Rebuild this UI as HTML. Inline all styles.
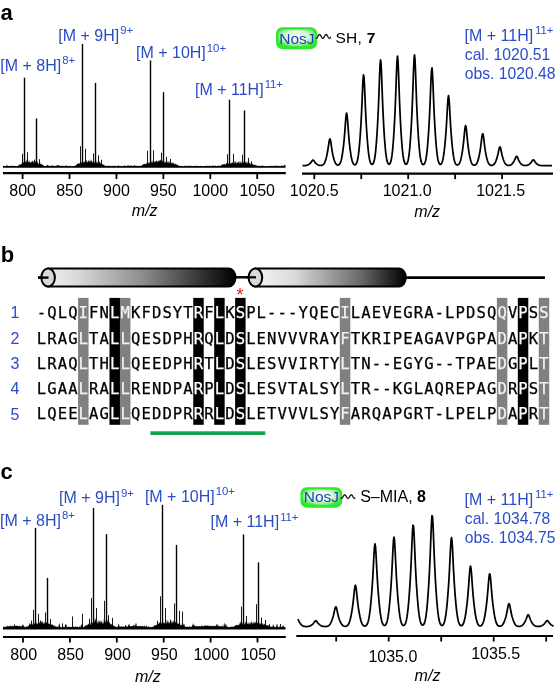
<!DOCTYPE html>
<html><head><meta charset="utf-8"><title>Figure</title>
<style>
html,body{margin:0;padding:0;background:#fff;}
body{width:556px;height:685px;overflow:hidden;}
svg{display:block;}
</style></head><body>
<svg width="556" height="685" viewBox="0 0 556 685">
<rect width="556" height="685" fill="#fff"/>
<text x="0.6" y="19.8" font-size="22" text-anchor="start" fill="#000" font-weight="bold" font-style="normal" font-family="'Liberation Sans', Arial, Helvetica, sans-serif">a</text>
<path d="M3 167.8L3 165.61L3.25 166.05L3.5 165.9L3.75 165.99L4 165.87L4.25 166.05L4.5 166.11L4.75 166.13L5 166.1L5.25 166.18L5.5 166.2L5.75 166.19L6 166.04L6.25 165.58L6.5 165.23L6.75 165.2L7 165.23L7.25 165.58L7.5 165.44L7.75 166.12L8 165.85L8.25 165.68L8.5 166.09L8.75 165.96L9 166.11L9.25 165.96L9.5 165.9L9.75 166.07L10 165.87L10.25 165.69L10.5 165.94L10.75 166.05L11 165.97L11.25 165.98L11.5 165.56L11.75 165.23L12 166.18L12.25 166.08L12.5 165.89L12.75 166.06L13 166.02L13.25 165.58L13.5 165.69L13.75 166L14 165.92L14.25 165.88L14.5 165.71L14.75 166.02L15 166.03L15.25 166.06L15.5 165.95L15.75 165.88L16 165.9L16.25 165.74L16.5 166.13L16.75 166.19L17 165.93L17.25 165.99L17.5 166.09L17.75 166.01L18 166.17L18.25 165.65L18.5 165.39L18.75 165.04L19 164.6L19.25 165.43L19.5 164.57L19.75 164.26L20 164.8L20.25 164.97L20.5 164.81L20.75 163.9L21 164.26L21.25 164.17L21.5 162.47L21.75 164.71L22 162.84L22.25 162.41L22.5 164.31L22.75 162.6L23 162.14L23.25 163.52L23.5 161.91L23.75 161.16L24 162.68L24.25 162.63L24.5 161.86L24.75 161.28L25 162.29L25.25 162.84L25.5 161.17L25.75 161.48L26 161.07L26.25 159.36L26.5 159.81L26.75 162.67L27 161.67L27.25 159.92L27.5 161.77L27.75 161.82L28 162.75L28.25 162.24L28.5 160.44L28.75 162.16L29 160.18L29.25 160.29L29.5 161.93L29.75 162.68L30 162.52L30.25 161.47L30.5 162.51L30.75 162.69L31 162.69L31.25 161.52L31.5 161.13L31.75 161.76L32 163.15L32.25 160.12L32.5 161.62L32.75 160.83L33 161.45L33.25 163.3L33.5 162.6L33.75 160.9L34 160.31L34.25 162.91L34.5 161.76L34.75 163.18L35 162.09L35.25 162.65L35.5 161.61L35.75 160.94L36 161.21L36.25 162.86L36.5 161.69L36.75 162.96L37 163.08L37.25 163.16L37.5 161.37L37.75 162.23L38 161.59L38.25 163.7L38.5 164.37L38.75 163.92L39 163.43L39.25 162.88L39.5 162.99L39.75 163.06L40 162.62L40.25 162.71L40.5 164.36L40.75 164.45L41 164.02L41.25 164.26L41.5 163.76L41.75 164.49L42 164.58L42.25 164.35L42.5 164.75L42.75 164.71L43 165.17L43.25 165.39L43.5 165.45L43.75 165.5L44 166.18L44.25 166.07L44.5 165.56L44.75 166.03L45 166.11L45.25 166.02L45.5 165.96L45.75 166.04L46 165.8L46.25 166.09L46.5 165.54L46.75 166.16L47 165.32L47.25 165.34L47.5 164.85L47.75 164.81L48 164.85L48.25 165.34L48.5 165.87L48.75 165.98L49 165.79L49.25 166.02L49.5 165.86L49.75 165.99L50 165.78L50.25 165.99L50.5 166.12L50.75 166.02L51 165.62L51.25 165.84L51.5 166.08L51.75 165.51L52 166.06L52.25 165.61L52.5 165.1L52.75 165.55L53 166.08L53.25 165.76L53.5 165.85L53.75 165.9L54 165.45L54.25 166.13L54.5 166.03L54.75 165.91L55 165.73L55.25 166.04L55.5 165.85L55.75 166L56 165.75L56.25 165.5L56.5 165.96L56.75 165.8L57 165.66L57.25 165.07L57.5 165.19L57.75 164.84L58 165.49L58.25 165.38L58.5 165.23L58.75 164.88L59 165.18L59.25 165.78L59.5 165.55L59.75 165.36L60 166.09L60.25 165.65L60.5 166.13L60.75 165.93L61 165.63L61.25 166.13L61.5 165.97L61.75 165.52L62 165.56L62.25 166.1L62.5 165.93L62.75 166.06L63 165.58L63.25 165.89L63.5 165.95L63.75 165.92L64 165.82L64.25 165.76L64.5 165.9L64.75 166.15L65 166.2L65.25 165.47L65.5 165.75L65.75 166.08L66 165.83L66.25 165.59L66.5 165.36L66.75 165.77L67 166.14L67.25 166.04L67.5 165.88L67.75 165.86L68 166L68.25 166.01L68.5 166.16L68.75 166.09L69 165.89L69.25 166.13L69.5 165.65L69.75 166.07L70 166.05L70.25 165.4L70.5 165.21L70.75 166.14L71 165.94L71.25 166.15L71.5 166.15L71.75 166.18L72 166.19L72.25 166.05L72.5 166.16L72.75 166.11L73 165.96L73.25 166.16L73.5 166.1L73.75 165.81L74 165.96L74.25 165.95L74.5 166.07L74.75 166.01L75 165.98L75.25 165.35L75.5 165.57L75.75 165.65L76 164.89L76.25 164.57L76.5 164.74L76.75 165.18L77 163.96L77.25 163.82L77.5 164.24L77.75 164.02L78 163.64L78.25 163.47L78.5 163.05L78.75 163.46L79 162.74L79.25 163.4L79.5 163.34L79.75 164.24L80 163.32L80.25 163.23L80.5 162.43L80.75 162L81 162.33L81.25 163.06L81.5 162.08L81.75 161.97L82 163.12L82.25 162.23L82.5 163.25L82.75 163.08L83 161.09L83.25 162.8L83.5 161.5L83.75 162.24L84 162.66L84.25 160.92L84.5 161.98L84.75 162.64L85 161.6L85.25 160.19L85.5 159.85L85.75 161.16L86 162.28L86.25 161.68L86.5 159.57L86.75 160.35L87 160.65L87.25 162.23L87.5 162.82L87.75 161.93L88 160.66L88.25 161.88L88.5 161.84L88.75 160.85L89 162.1L89.25 162.99L89.5 159.34L89.75 160.24L90 162.28L90.25 160.78L90.5 161.22L90.75 161.1L91 158.78L91.25 162.56L91.5 160.26L91.75 159.9L92 161.19L92.25 162.08L92.5 162.57L92.75 162.67L93 162.37L93.25 162.17L93.5 162.42L93.75 160.67L94 161.71L94.25 163.47L94.5 160.53L94.75 162.39L95 163L95.25 160.12L95.5 160.59L95.75 163.13L96 162.34L96.25 161.74L96.5 161.05L96.75 163.33L97 163.44L97.25 160.39L97.5 163.07L97.75 163.11L98 163.84L98.25 163.35L98.5 162.84L98.75 161.54L99 161.33L99.25 162.35L99.5 161.26L99.75 161.3L100 163.65L100.25 164.23L100.5 163.31L100.75 162.11L101 163.55L101.25 163.77L101.5 163.89L101.75 164.72L102 164.03L102.25 163.69L102.5 164.55L102.75 164.31L103 164.58L103.25 165.12L103.5 164.62L103.75 165.23L104 164.73L104.25 165.14L104.5 165.61L104.75 165.57L105 165.21L105.25 165.98L105.5 166.08L105.75 165.89L106 165.79L106.25 166.1L106.5 165.73L106.75 165.7L107 166.1L107.25 165.72L107.5 166.04L107.75 165.92L108 165.58L108.25 165.61L108.5 165.93L108.75 166.14L109 165.52L109.25 165.61L109.5 166.13L109.75 165.94L110 166.02L110.25 165.95L110.5 165.93L110.75 166.01L111 165.41L111.25 165.94L111.5 166.19L111.75 166.16L112 166.05L112.25 166.09L112.5 165.7L112.75 165.66L113 166.04L113.25 166.01L113.5 166.04L113.75 165.81L114 165.85L114.25 165.95L114.5 165.84L114.75 165.95L115 165.55L115.25 165.91L115.5 165.85L115.75 166.01L116 165.87L116.25 166.17L116.5 166.07L116.75 166.14L117 166.04L117.25 165.63L117.5 166.04L117.75 166.02L118 165.72L118.25 165.45L118.5 165.43L118.75 165.45L119 165.72L119.25 165.86L119.5 166.1L119.75 166.09L120 166.06L120.25 166.02L120.5 165.95L120.75 165.82L121 165.93L121.25 165.76L121.5 166.13L121.75 166.19L122 166.04L122.25 165.83L122.5 166.09L122.75 166.17L123 165.9L123.25 165.87L123.5 166.11L123.75 166.1L124 165.96L124.25 165.68L124.5 165.12L124.75 165.71L125 165.62L125.25 165.75L125.5 165.84L125.75 166.02L126 166.08L126.25 166.13L126.5 165.73L126.75 166L127 166.16L127.25 166.11L127.5 165.58L127.75 165.23L128 165.2L128.25 165.23L128.5 165.58L128.75 165.9L129 165.34L129.25 166.13L129.5 166.06L129.75 165.72L130 165.68L130.25 165.38L130.5 165.35L130.75 165.38L131 165.68L131.25 165.8L131.5 165.78L131.75 166.02L132 165.79L132.25 165.87L132.5 166.06L132.75 165.91L133 165.86L133.25 165.94L133.5 165.55L133.75 165.91L134 165.61L134.25 165.28L134.5 165.25L134.75 165.28L135 165.61L135.25 165.63L135.5 166.19L135.75 165.62L136 165.8L136.25 166.1L136.5 165.71L136.75 165.97L137 165.66L137.25 165.89L137.5 165.82L137.75 166.04L138 165.76L138.25 166.16L138.5 165.67L138.75 165.98L139 165.96L139.25 165.8L139.5 165.67L139.75 166.02L140 166.04L140.25 165.86L140.5 166L140.75 165.72L141 166.15L141.25 165.86L141.5 165.51L141.75 165.14L142 164.88L142.25 165.03L142.5 164.73L142.75 165.54L143 164.32L143.25 164.05L143.5 164.04L143.75 164.74L144 164.12L144.25 164.08L144.5 164.12L144.75 164.1L145 163.2L145.25 163.52L145.5 164.6L145.75 164.61L146 163.91L146.25 163.4L146.5 163.75L146.75 162.39L147 163.91L147.25 162.65L147.5 163.19L147.75 163.86L148 163.73L148.25 163.7L148.5 162.95L148.75 161.75L149 162.57L149.25 163.53L149.5 161.79L149.75 163.55L150 161.31L150.25 162.62L150.5 163.78L150.75 162.42L151 161.99L151.25 163.26L151.5 160.58L151.75 161.28L152 163.18L152.25 160.41L152.5 160.75L152.75 162.86L153 162.71L153.25 163.16L153.5 162.14L153.75 162.42L154 161.82L154.25 161.89L154.5 161.37L154.75 162.1L155 161.67L155.25 161.6L155.5 161.01L155.75 162.16L156 160.89L156.25 160.17L156.5 161.04L156.75 161.29L157 160.92L157.25 162.53L157.5 160.98L157.75 162.19L158 160.13L158.25 161.31L158.5 161.61L158.75 160.81L159 159.92L159.25 159.52L159.5 161.67L159.75 160.22L160 161.66L160.25 159.42L160.5 159.67L160.75 159.76L161 160.82L161.25 161.68L161.5 161.53L161.75 159.77L162 162.5L162.25 161.03L162.5 160.23L162.75 161.84L163 160.45L163.25 160.45L163.5 161.82L163.75 162.73L164 159.43L164.25 163.02L164.5 162.86L164.75 162.16L165 162.2L165.25 162.55L165.5 162.59L165.75 161.58L166 162.54L166.25 161.64L166.5 162.2L166.75 163.16L167 163.28L167.25 161.88L167.5 160.54L167.75 163L168 161.43L168.25 163.75L168.5 161.15L168.75 161.06L169 162.67L169.25 163.54L169.5 162.19L169.75 160.97L170 162.91L170.25 162.97L170.5 163.13L170.75 162.31L171 163.59L171.25 164.16L171.5 162.52L171.75 162.58L172 161.74L172.25 164.28L172.5 162.98L172.75 162.29L173 162.38L173.25 162.47L173.5 163.67L173.75 163.3L174 163.68L174.25 163.2L174.5 164.12L174.75 164.24L175 164.39L175.25 164.33L175.5 163.82L175.75 163.78L176 164.11L176.25 165.06L176.5 163.79L176.75 164.65L177 164.29L177.25 165.04L177.5 164.76L177.75 165.62L178 165.02L178.25 165.47L178.5 165.34L178.75 165.48L179 165.84L179.25 165.98L179.5 166.17L179.75 165.9L180 165.85L180.25 165.91L180.5 165.88L180.75 166.07L181 165.74L181.25 166.08L181.5 166.12L181.75 165.72L182 165.94L182.25 166.09L182.5 165.89L182.75 166.19L183 165.81L183.25 166.13L183.5 165.93L183.75 166.14L184 165.95L184.25 165.71L184.5 165.75L184.75 166.07L185 166.03L185.25 165.82L185.5 165.88L185.75 165.7L186 166.02L186.25 165.89L186.5 166.01L186.75 165.77L187 165.71L187.25 166.13L187.5 166.16L187.75 166.08L188 165.64L188.25 165.45L188.5 165.69L188.75 165.79L189 166.16L189.25 165.53L189.5 166.09L189.75 165.78L190 166.15L190.25 166.04L190.5 164.92L190.75 166.18L191 165.97L191.25 165.89L191.5 166.1L191.75 165.44L192 166.03L192.25 166.15L192.5 165.77L192.75 166.14L193 166.14L193.25 165.72L193.5 165.84L193.75 166.05L194 165.93L194.25 166.18L194.5 165.68L194.75 166.07L195 166.04L195.25 166.13L195.5 166.01L195.75 165.76L196 165.85L196.25 165.79L196.5 165.86L196.75 166.03L197 165.87L197.25 165.92L197.5 165.75L197.75 165.92L198 166.16L198.25 166.09L198.5 166.12L198.75 166.13L199 165.92L199.25 166.1L199.5 166.16L199.75 166L200 165.79L200.25 165.63L200.5 165.92L200.75 166.03L201 166.03L201.25 165.78L201.5 166.18L201.75 166.01L202 165.97L202.25 166.08L202.5 166.03L202.75 165.98L203 166.13L203.25 166.17L203.5 165.98L203.75 166.02L204 165.83L204.25 166.14L204.5 166.12L204.75 165.99L205 166.19L205.25 166.11L205.5 165.77L205.75 165.71L206 165.59L206.25 165.91L206.5 166L206.75 165.94L207 165.3L207.25 165.63L207.5 166.14L207.75 165.95L208 165.89L208.25 166.08L208.5 165.99L208.75 165.97L209 166.15L209.25 165.94L209.5 165.85L209.75 165.29L210 166.03L210.25 166.18L210.5 165.9L210.75 165.51L211 166.2L211.25 166.18L211.5 165.97L211.75 165.64L212 165.85L212.25 165.09L212.5 165.7L212.75 165.83L213 166.07L213.25 165.88L213.5 165.62L213.75 166.07L214 165.52L214.25 166.01L214.5 165.73L214.75 165.69L215 165.75L215.25 165.62L215.5 166.09L215.75 165.84L216 166.04L216.25 166.18L216.5 166.18L216.75 165.74L217 166.06L217.25 165.9L217.5 165.91L217.75 165.83L218 165.91L218.25 165.76L218.5 165.51L218.75 165.49L219 165.51L219.25 165.71L219.5 166.02L219.75 166.13L220 166L220.25 165.79L220.5 165.78L220.75 165.6L221 165.46L221.25 165.61L221.5 165.04L221.75 164.48L222 164.44L222.25 164.87L222.5 164.74L222.75 164.53L223 164.66L223.25 164.23L223.5 163.77L223.75 164.26L224 165.11L224.25 163.88L224.5 164.07L224.75 163.67L225 164.14L225.25 164.76L225.5 164.41L225.75 164.4L226 162.91L226.25 163.17L226.5 162.93L226.75 163.91L227 162.67L227.25 162.66L227.5 162.53L227.75 162.98L228 163.58L228.25 162.59L228.5 164.01L228.75 164.01L229 164.14L229.25 162.91L229.5 162.33L229.75 163.31L230 164.15L230.25 163.72L230.5 163.43L230.75 163.25L231 161.88L231.25 162.76L231.5 163.54L231.75 162.72L232 164.14L232.25 161.02L232.5 163.24L232.75 163.37L233 161.34L233.25 162.91L233.5 163.9L233.75 163.88L234 163.81L234.25 162.93L234.5 163.04L234.75 161.25L235 161.11L235.25 161.86L235.5 163.77L235.75 160.41L236 162.25L236.25 161.26L236.5 163.53L236.75 163.95L237 163.23L237.25 161.65L237.5 163.07L237.75 163.11L238 161.57L238.25 162.05L238.5 162.38L238.75 162.48L239 163.72L239.25 163.69L239.5 162.6L239.75 160.89L240 161.22L240.25 160.68L240.5 163.11L240.75 162.48L241 163.68L241.25 163.24L241.5 160.9L241.75 163.15L242 162.21L242.25 162.3L242.5 162.51L242.75 163.82L243 163.68L243.25 161.05L243.5 162.31L243.75 162.65L244 162.19L244.25 161.2L244.5 161.41L244.75 161.32L245 162.59L245.25 162.69L245.5 162.22L245.75 161.48L246 162.58L246.25 161.37L246.5 162.41L246.75 164L247 162.16L247.25 163.85L247.5 163.43L247.75 161.18L248 161.19L248.25 160.87L248.5 161.6L248.75 162.95L249 162.86L249.25 162.38L249.5 163.11L249.75 163.11L250 163.97L250.25 162.51L250.5 164.83L250.75 164.47L251 164.19L251.25 163.3L251.5 163.77L251.75 163.47L252 163.74L252.25 163.94L252.5 164.13L252.75 163.52L253 165.17L253.25 164.91L253.5 164.06L253.75 165.29L254 164.23L254.25 164.98L254.5 165.24L254.75 164.71L255 164.61L255.25 164.75L255.5 165.42L255.75 165.47L256 165.44L256.25 165.05L256.5 165.48L256.75 165.15L257 165.76L257.25 165.86L257.5 165.92L257.75 166.18L258 165.79L258.25 165.52L258.5 165.62L258.75 165.89L259 166.2L259.25 165.99L259.5 165.6L259.75 165.92L260 165.78L260.25 166.18L260.5 165.99L260.75 166.19L261 165.62L261.25 166.15L261.5 165.82L261.75 165.6L262 165.58L262.25 165.52L262.5 165.82L262.75 166.11L263 165.92L263.25 165.86L263.5 165.79L263.75 165.84L264 166.19L264.25 166.13L264.5 166.05L264.75 165.97L265 166.05L265.25 166.06L265.5 165.57L265.75 166.19L266 166.2L266.25 166.14L266.5 166.13L266.75 166.05L267 166L267.25 165.92L267.5 166.13L267.75 166.06L268 165.71L268.25 166.04L268.5 166.17L268.75 166.08L269 165.82L269.25 166.07L269.5 166.19L269.75 165.96L270 166.06L270.25 166.1L270.5 165.63L270.75 165.78L271 165.88L271.25 166.06L271.5 165.64L271.75 165.88L272 165.9L272.25 166.08L272.5 165.71L272.75 165.96L273 166.15L273.25 165.83L273.5 166.18L273.75 166L274 165.35L274.25 165.91L274.5 166.07L274.75 166.17L275 165.41L275.25 165.68L275.5 165.37L275.75 165.77L276 165.86L276.25 165.76L276.5 166.11L276.75 166.05L277 165.96L277.25 165.39L277.5 166.15L277.75 165.72L278 165.73L278.25 165.91L278.5 166.16L278.75 165.91L279 166.09L279.25 166.05L279.5 165.87L279.75 165.96L280 166.17L280.25 166.11L280.5 165.9L280.75 166.05L281 165.77L281.25 165.56L281.5 165.76L281.75 166.04L282 165.58L282.25 165.89L282.5 165.53L282.75 165.86L283 165.78L283.25 165.97L283.5 166.07L283.75 165.43L284 165.83L284.25 165.3L284.5 164.79L284.75 164.74L285 164.79L285.25 165.3L285.5 166.07L285.5 167.8Z" fill="#000" stroke="none"/>
<line x1="24.5" y1="167" x2="24.5" y2="77.7" stroke="#000" stroke-width="1.4"/>
<line x1="22.5" y1="167" x2="22.5" y2="153.9" stroke="#000" stroke-width="0.9"/>
<line x1="27.5" y1="167" x2="27.5" y2="152.2" stroke="#000" stroke-width="0.9"/>
<line x1="36.5" y1="167" x2="36.5" y2="118.4" stroke="#000" stroke-width="1.4"/>
<line x1="34.5" y1="167" x2="34.5" y2="159.7" stroke="#000" stroke-width="0.9"/>
<line x1="39.5" y1="167" x2="39.5" y2="159.2" stroke="#000" stroke-width="0.9"/>
<line x1="82.5" y1="167" x2="82.5" y2="43.9" stroke="#000" stroke-width="1.4"/>
<line x1="80.5" y1="167" x2="80.5" y2="146.2" stroke="#000" stroke-width="0.9"/>
<line x1="85.5" y1="167" x2="85.5" y2="148.7" stroke="#000" stroke-width="0.9"/>
<line x1="88.5" y1="167" x2="88.5" y2="160.7" stroke="#000" stroke-width="0.9"/>
<line x1="95.5" y1="167" x2="95.5" y2="82.9" stroke="#000" stroke-width="1.4"/>
<line x1="93.5" y1="167" x2="93.5" y2="153.4" stroke="#000" stroke-width="0.9"/>
<line x1="98.5" y1="167" x2="98.5" y2="155.2" stroke="#000" stroke-width="0.9"/>
<line x1="101.5" y1="167" x2="101.5" y2="159.7" stroke="#000" stroke-width="0.9"/>
<line x1="150.5" y1="167" x2="150.5" y2="60.4" stroke="#000" stroke-width="1.4"/>
<line x1="147.5" y1="167" x2="147.5" y2="150.7" stroke="#000" stroke-width="0.9"/>
<line x1="153.5" y1="167" x2="153.5" y2="150.2" stroke="#000" stroke-width="0.9"/>
<line x1="156.5" y1="167" x2="156.5" y2="161.2" stroke="#000" stroke-width="0.9"/>
<line x1="163.5" y1="167" x2="163.5" y2="92.2" stroke="#000" stroke-width="1.4"/>
<line x1="161.5" y1="167" x2="161.5" y2="152.7" stroke="#000" stroke-width="0.9"/>
<line x1="166.5" y1="167" x2="166.5" y2="156.7" stroke="#000" stroke-width="0.9"/>
<line x1="170.5" y1="167" x2="170.5" y2="159" stroke="#000" stroke-width="0.9"/>
<line x1="229.5" y1="167" x2="229.5" y2="99.7" stroke="#000" stroke-width="1.4"/>
<line x1="227.5" y1="167" x2="227.5" y2="154.2" stroke="#000" stroke-width="0.9"/>
<line x1="233.5" y1="167" x2="233.5" y2="153.9" stroke="#000" stroke-width="0.9"/>
<line x1="238.5" y1="167" x2="238.5" y2="162" stroke="#000" stroke-width="0.9"/>
<line x1="244.5" y1="167" x2="244.5" y2="110.4" stroke="#000" stroke-width="1.4"/>
<line x1="242.5" y1="167" x2="242.5" y2="154.6" stroke="#000" stroke-width="0.9"/>
<line x1="248.5" y1="167" x2="248.5" y2="157.9" stroke="#000" stroke-width="0.9"/>
<line x1="251.5" y1="167" x2="251.5" y2="161.2" stroke="#000" stroke-width="0.9"/>
<line x1="3" y1="173.2" x2="285.8" y2="173.2" stroke="#000" stroke-width="2.2"/>
<line x1="22.6" y1="173.2" x2="22.6" y2="179" stroke="#000" stroke-width="1.8"/>
<line x1="69.52" y1="173.2" x2="69.52" y2="179" stroke="#000" stroke-width="1.8"/>
<line x1="116.44" y1="173.2" x2="116.44" y2="179" stroke="#000" stroke-width="1.8"/>
<line x1="163.36" y1="173.2" x2="163.36" y2="179" stroke="#000" stroke-width="1.8"/>
<line x1="210.28" y1="173.2" x2="210.28" y2="179" stroke="#000" stroke-width="1.8"/>
<line x1="257.2" y1="173.2" x2="257.2" y2="179" stroke="#000" stroke-width="1.8"/>
<text x="22.6" y="195.8" font-size="16" text-anchor="middle" fill="#000" font-weight="normal" font-style="normal" font-family="'Liberation Sans', Arial, Helvetica, sans-serif">800</text>
<text x="69.52" y="195.8" font-size="16" text-anchor="middle" fill="#000" font-weight="normal" font-style="normal" font-family="'Liberation Sans', Arial, Helvetica, sans-serif">850</text>
<text x="116.44" y="195.8" font-size="16" text-anchor="middle" fill="#000" font-weight="normal" font-style="normal" font-family="'Liberation Sans', Arial, Helvetica, sans-serif">900</text>
<text x="163.36" y="195.8" font-size="16" text-anchor="middle" fill="#000" font-weight="normal" font-style="normal" font-family="'Liberation Sans', Arial, Helvetica, sans-serif">950</text>
<text x="210.28" y="195.8" font-size="16" text-anchor="middle" fill="#000" font-weight="normal" font-style="normal" font-family="'Liberation Sans', Arial, Helvetica, sans-serif">1000</text>
<text x="257.2" y="195.8" font-size="16" text-anchor="middle" fill="#000" font-weight="normal" font-style="normal" font-family="'Liberation Sans', Arial, Helvetica, sans-serif">1050</text>
<text x="144.7" y="215.6" font-size="16" text-anchor="middle" fill="#000" font-weight="normal" font-style="italic" font-family="'Liberation Sans', Arial, Helvetica, sans-serif">m/z</text>
<text x="0.3" y="70.5" font-size="16" fill="#2b4cc8" font-family="'Liberation Sans', Arial, Helvetica, sans-serif">[M + 8H]<tspan font-size="11.3" dx="1" dy="-6.2">8+</tspan></text>
<text x="58.3" y="40.5" font-size="16" fill="#2b4cc8" font-family="'Liberation Sans', Arial, Helvetica, sans-serif">[M + 9H]<tspan font-size="11.3" dx="1" dy="-6.2">9+</tspan></text>
<text x="136" y="58" font-size="16" fill="#2b4cc8" font-family="'Liberation Sans', Arial, Helvetica, sans-serif">[M + 10H]<tspan font-size="11.3" dx="1" dy="-6.2">10+</tspan></text>
<text x="195" y="94.5" font-size="16" fill="#2b4cc8" font-family="'Liberation Sans', Arial, Helvetica, sans-serif">[M + 11H]<tspan font-size="11.3" dx="1" dy="-6.2">11+</tspan></text>
<path d="M302.5 165.6L303 165.59L303.5 165.59L304 165.58L304.5 165.57L305 165.54L305.5 165.51L306 165.45L306.5 165.36L307 165.24L307.5 165.08L308 164.86L308.5 164.59L309 164.26L309.5 163.88L310 163.44L310.5 162.93L311 162.33L311.5 161.63L312 160.9L312.5 160.33L313 160.1L313.5 160.33L314 160.9L314.5 161.63L315 162.33L315.5 162.93L316 163.44L316.5 163.88L317 164.26L317.5 164.59L318 164.86L318.5 165.08L319 165.24L319.5 165.35L320 165.42L320.5 165.45L321 165.44L321.5 165.39L322 165.28L322.5 165.09L323 164.79L323.5 164.35L324 163.72L324.5 162.87L325 161.76L325.5 160.38L326 158.72L326.5 156.8L327 154.59L327.5 152.04L328 149.01L328.5 145.54L329 142.07L329.5 139.51L330 138.85L330.5 140.35L331 143.41L331.5 146.97L332 150.28L332.5 153.11L333 155.51L333.5 157.6L334 159.42L334.5 160.97L335 162.23L335.5 163.23L336 163.98L336.5 164.5L337 164.85L337.5 165.03L338 165.08L338.5 164.98L339 164.71L339.5 164.25L340 163.51L340.5 162.45L341 160.97L341.5 159.01L342 156.52L342.5 153.49L343 149.93L343.5 145.84L344 141.13L344.5 135.6L345 129.1L345.5 122.12L346 116.14L346.5 113.19L347 114.49L347.5 119.5L348 126.31L348.5 133.11L349 139.03L349.5 144.04L350 148.35L350.5 152.13L351 155.38L351.5 158.08L352 160.25L352.5 161.9L353 163.11L353.5 163.95L354 164.47L354.5 164.74L355 164.78L355.5 164.57L356 164.1L356.5 163.28L357 162L357.5 160.16L358 157.6L358.5 154.21L359 149.9L359.5 144.66L360 138.49L360.5 131.42L361 123.28L361.5 113.71L362 102.48L362.5 90.4L363 80.06L363.5 74.95L364 77.21L364.5 85.86L365 97.65L365.5 109.41L366 119.65L366.5 128.31L367 135.77L367.5 142.3L368 147.92L368.5 152.6L369 156.35L369.5 159.22L370 161.32L370.5 162.78L371 163.73L371.5 164.26L372 164.44L372.5 164.29L373 163.79L373.5 162.86L374 161.39L374.5 159.25L375 156.27L375.5 152.33L376 147.31L376.5 141.2L377 134.01L377.5 125.77L378 116.29L378.5 105.14L379 92.05L379.5 77.98L380 65.93L380.5 59.98L381 62.61L381.5 72.69L382 86.42L382.5 100.12L383 112.06L383.5 122.15L384 130.85L384.5 138.45L385 145L385.5 150.45L386 154.82L386.5 158.16L387 160.61L387.5 162.32L388 163.42L388.5 164.04L389 164.26L389.5 164.09L390 163.53L390.5 162.48L391 160.85L391.5 158.48L392 155.21L392.5 150.91L393 145.5L393.5 138.94L394 131.29L394.5 122.53L395 112.41L395.5 100.47L396 86.58L396.5 72.12L397 60.58L397.5 56.1L398 60.58L398.5 72.12L399 86.58L399.5 100.47L400 112.41L400.5 122.53L401 131.29L401.5 138.94L402 145.5L402.5 150.92L403 155.21L403.5 158.48L404 160.86L404.5 162.49L405 163.54L405.5 164.12L406 164.3L406.5 164.11L407 163.52L407.5 162.46L408 160.8L408.5 158.4L409 155.09L409.5 150.74L410 145.26L410.5 138.63L411 130.88L411.5 122.02L412 111.78L412.5 99.7L413 85.64L413.5 71.01L414 59.33L414.5 54.8L415 59.33L415.5 71.01L416 85.64L416.5 99.7L417 111.78L417.5 122.02L418 130.88L418.5 138.63L419 145.26L419.5 150.74L420 155.1L420.5 158.41L421 160.83L421.5 162.51L422 163.61L422.5 164.27L423 164.58L423.5 164.59L424 164.3L424.5 163.66L425 162.61L425.5 161.01L426 158.73L426.5 155.64L427 151.6L427.5 146.55L428 140.5L428.5 133.47L429 125.43L429.5 116.11L430 105.08L430.5 92.41L431 79.72L431.5 70.4L432 67.97L432.5 73.47L433 84.61L433.5 97.61L434 109.71L434.5 120.02L435 128.78L435.5 136.4L436 143.04L436.5 148.69L437 153.33L437.5 156.97L438 159.72L438.5 161.69L439 163.03L439.5 163.87L440 164.29L440.5 164.37L441 164.12L441.5 163.53L442 162.52L442.5 161.03L443 158.95L443.5 156.21L444 152.75L444.5 148.56L445 143.67L445.5 138.06L446 131.6L446.5 123.97L447 115.09L447.5 105.84L448 98.46L448.5 95.6L449 98.46L449.5 105.84L450 115.09L450.5 123.97L451 131.6L451.5 138.07L452 143.67L452.5 148.56L453 152.75L453.5 156.21L454 158.96L454.5 161.06L455 162.58L455.5 163.65L456 164.35L456.5 164.77L457 164.98L457.5 165L458 164.86L458.5 164.53L459 163.99L459.5 163.19L460 162.07L460.5 160.58L461 158.68L461.5 156.37L462 153.66L462.5 150.54L463 146.96L463.5 142.74L464 137.79L464.5 132.47L465 127.92L465.5 125.67L466 126.66L466.5 130.47L467 135.66L467.5 140.85L468 145.36L468.5 149.17L469 152.46L469.5 155.33L470 157.81L470.5 159.87L471 161.52L471.5 162.79L472 163.72L472.5 164.37L473 164.81L473.5 165.06L474 165.19L474.5 165.19L475 165.07L475.5 164.83L476 164.43L476.5 163.83L477 162.98L477.5 161.85L478 160.4L478.5 158.61L479 156.51L479.5 154.08L480 151.29L480.5 148.04L481 144.19L481.5 139.94L482 136.07L482.5 133.82L483 134.08L483.5 136.76L484 140.79L484.5 145L485 148.73L485.5 151.88L486 154.59L486.5 156.95L487 159L487.5 160.72L488 162.1L488.5 163.17L489 163.97L489.5 164.54L490 164.92L490.5 165.16L491 165.29L491.5 165.34L492 165.31L492.5 165.21L493 165.01L493.5 164.71L494 164.28L494.5 163.68L495 162.91L495.5 161.94L496 160.78L496.5 159.42L497 157.88L497.5 156.09L498 153.97L498.5 151.53L499 149.09L499.5 147.3L500 146.83L500.5 147.89L501 150.03L501.5 152.53L502 154.86L502.5 156.84L503 158.52L503.5 159.99L504 161.26L504.5 162.35L505 163.24L505.5 163.94L506 164.47L506.5 164.85L507 165.12L507.5 165.28L508 165.38L508.5 165.42L509 165.4L509.5 165.34L510 165.22L510.5 165.04L511 164.78L511.5 164.43L512 163.99L512.5 163.45L513 162.82L513.5 162.1L514 161.27L514.5 160.29L515 159.13L515.5 157.9L516 156.84L516.5 156.32L517 156.55L517.5 157.43L518 158.64L518.5 159.84L519 160.89L519.5 161.78L520 162.55L520.5 163.21L521 163.79L521.5 164.27L522 164.65L522.5 164.95L523 165.16L523.5 165.31L524 165.41L524.5 165.47L525 165.5L525.5 165.49L526 165.46L526.5 165.4L527 165.3L527.5 165.16L528 164.96L528.5 164.71L529 164.4L529.5 164.03L530 163.6L530.5 163.11L531 162.54L531.5 161.87L532 161.1L532.5 160.37L533 159.89L533.5 159.84L534 160.25L534.5 160.95L535 161.72L535.5 162.42L536 163.01L536.5 163.51L537 163.95L537.5 164.33L538 164.66L538.5 164.92L539 165.13L539.5 165.28L540 165.39L540.5 165.47L541 165.52L541.5 165.55L542 165.57L542.5 165.58L543 165.59L543.5 165.6L544 165.6L544.5 165.6L545 165.6L545.5 165.6L546 165.6L546.5 165.6L547 165.6L547.5 165.6L548 165.6L548.5 165.6L549 165.6L549.5 165.6L550 165.6L550.5 165.6L551 165.6L551.5 165.6L552 165.6" fill="none" stroke="#000" stroke-width="1.75" stroke-linejoin="round"/>
<line x1="302" y1="173.6" x2="553" y2="173.6" stroke="#000" stroke-width="2.2"/>
<line x1="314.3" y1="173.6" x2="314.3" y2="179.1" stroke="#000" stroke-width="1.8"/>
<line x1="361.25" y1="173.6" x2="361.25" y2="179.1" stroke="#000" stroke-width="1.8"/>
<line x1="408.2" y1="173.6" x2="408.2" y2="179.1" stroke="#000" stroke-width="1.8"/>
<line x1="455.15" y1="173.6" x2="455.15" y2="179.1" stroke="#000" stroke-width="1.8"/>
<line x1="502.1" y1="173.6" x2="502.1" y2="179.1" stroke="#000" stroke-width="1.8"/>
<text x="314.3" y="195.8" font-size="16" text-anchor="middle" fill="#000" font-weight="normal" font-style="normal" font-family="'Liberation Sans', Arial, Helvetica, sans-serif">1020.5</text>
<text x="407.2" y="195.8" font-size="16" text-anchor="middle" fill="#000" font-weight="normal" font-style="normal" font-family="'Liberation Sans', Arial, Helvetica, sans-serif">1021.0</text>
<text x="500.6" y="195.8" font-size="16" text-anchor="middle" fill="#000" font-weight="normal" font-style="normal" font-family="'Liberation Sans', Arial, Helvetica, sans-serif">1021.5</text>
<text x="427.2" y="217" font-size="16" text-anchor="middle" fill="#000" font-weight="normal" font-style="italic" font-family="'Liberation Sans', Arial, Helvetica, sans-serif">m/z</text>
<defs><radialGradient id="ga" cx="50%" cy="42%" r="62%"><stop offset="0" stop-color="#f6fff6"/><stop offset="0.45" stop-color="#dcfadc"/><stop offset="0.7" stop-color="#96f096"/><stop offset="0.85" stop-color="#45e845"/><stop offset="1" stop-color="#2ee62e"/></radialGradient></defs>
<rect x="277.2" y="28.4" width="38.8" height="19.6" rx="5" ry="5" fill="url(#ga)" stroke="#2ee82e" stroke-width="2.3"/>
<text x="279.2" y="43.5" font-size="15.5" text-anchor="start" fill="#1f3fb8" font-weight="normal" font-style="normal" font-family="'Liberation Sans', Arial, Helvetica, sans-serif">NosJ</text>
<path d="M316.3 38.29L316.48 38.23L316.66 38.12L316.84 37.96L317.01 37.76L317.19 37.51L317.37 37.23L317.55 36.93L317.73 36.62L317.91 36.29L318.09 35.97L318.27 35.67L318.44 35.38L318.62 35.12L318.8 34.9L318.98 34.73L319.16 34.6L319.34 34.52L319.52 34.5L319.7 34.53L319.88 34.62L320.05 34.76L320.23 34.94L320.41 35.17L320.59 35.43L320.77 35.73L320.95 36.04L321.13 36.36L321.31 36.68L321.48 36.99L321.66 37.29L321.84 37.56L322.02 37.8L322.2 38L322.38 38.15L322.56 38.25L322.74 38.3L322.91 38.29L323.09 38.23L323.27 38.11L323.45 37.95L323.63 37.74L323.81 37.49L323.99 37.21L324.17 36.91L324.34 36.59L324.52 36.27L324.7 35.95L324.88 35.64L325.06 35.36L325.24 35.11L325.42 34.89L325.6 34.72L325.77 34.59L325.95 34.52L326.13 34.5L326.31 34.54L326.49 34.63L326.67 34.77L326.85 34.96L327.03 35.19L327.2 35.46L327.38 35.75L327.56 36.06L327.74 36.38L327.92 36.7L328.1 37.02L328.28 37.31L328.46 37.58L328.63 37.82L328.81 38.01L328.99 38.16L329.17 38.25L329.35 38.3L329.53 38.29L329.71 38.22L329.89 38.1L330.06 37.93L330.24 37.72L330.42 37.47L330.6 37.19" fill="none" stroke="#111" stroke-width="1.3" stroke-linecap="round"/>
<text x="335.5" y="43.3" font-size="15.5" letter-spacing="0.25" font-family="'Liberation Sans', Arial, Helvetica, sans-serif" fill="#000">SH, <tspan font-weight="bold">7</tspan></text>
<text x="464.6" y="40.9" font-size="16" fill="#2b4cc8" font-family="'Liberation Sans', Arial, Helvetica, sans-serif">[M + 11H]<tspan font-size="11.3" dx="1.8" dy="-7.2">11+</tspan></text>
<text x="464.8" y="59.7" font-size="15.7" text-anchor="start" fill="#2b4cc8" font-weight="normal" font-style="normal" font-family="'Liberation Sans', Arial, Helvetica, sans-serif">cal. 1020.51</text>
<text x="464.8" y="78.5" font-size="15.7" text-anchor="start" fill="#2b4cc8" font-weight="normal" font-style="normal" font-family="'Liberation Sans', Arial, Helvetica, sans-serif">obs. 1020.48</text>
<text x="0.8" y="262.4" font-size="22" text-anchor="start" fill="#000" font-weight="bold" font-style="normal" font-family="'Liberation Sans', Arial, Helvetica, sans-serif">b</text>
<defs><linearGradient id="hg1" x1="0" x2="1" y1="0" y2="0"><stop offset="0" stop-color="#f0f0f0"/><stop offset="0.15" stop-color="#dadada"/><stop offset="0.5" stop-color="#8e8e8e"/><stop offset="0.85" stop-color="#2a2a2a"/><stop offset="1" stop-color="#000"/></linearGradient><linearGradient id="hg2" x1="0" x2="1" y1="0" y2="0"><stop offset="0" stop-color="#f4f4f4"/><stop offset="0.25" stop-color="#dcdcdc"/><stop offset="0.7" stop-color="#6a6a6a"/><stop offset="1" stop-color="#000"/></linearGradient></defs>
<line x1="38" y1="277.6" x2="48" y2="277.6" stroke="#000" stroke-width="2.4"/>
<path d="M48.1 268.4 L228.7 268.4 A6.8 9.1 0 0 1 228.7 286.6 L48.1 286.6 Z" fill="url(#hg1)" stroke="#000" stroke-width="2"/>
<ellipse cx="48.1" cy="277.5" rx="6.8" ry="9.1" fill="#d9d9d9" stroke="#000" stroke-width="2"/>
<line x1="235" y1="277.3" x2="252" y2="277.3" stroke="#000" stroke-width="2.4"/>
<path d="M255.4 268.4 L399 268.4 A6.8 9.1 0 0 1 399 286.6 L255.4 286.6 Z" fill="url(#hg2)" stroke="#000" stroke-width="2"/>
<ellipse cx="255.4" cy="277.5" rx="6.8" ry="9.1" fill="#d9d9d9" stroke="#000" stroke-width="2"/>
<line x1="405" y1="277.6" x2="545" y2="277.6" stroke="#000" stroke-width="2.6"/>
<line x1="246" y1="277.3" x2="256" y2="277.3" stroke="#000" stroke-width="2.2"/>
<line x1="38" y1="277.6" x2="48.5" y2="277.6" stroke="#000" stroke-width="2.4"/>
<text x="240" y="301" font-size="18" text-anchor="middle" fill="#e02020" font-weight="normal" font-style="normal" font-family="'Liberation Sans', Arial, Helvetica, sans-serif">*</text>
<rect x="78.08" y="297.9" width="10.47" height="126.9" fill="#808080"/>
<rect x="119.96" y="297.9" width="10.47" height="126.9" fill="#808080"/>
<rect x="339.83" y="297.9" width="10.47" height="126.9" fill="#808080"/>
<rect x="496.88" y="297.9" width="10.47" height="126.9" fill="#808080"/>
<rect x="538.76" y="297.9" width="10.47" height="126.9" fill="#808080"/>
<rect x="109.49" y="297.9" width="10.47" height="126.9" fill="#000"/>
<rect x="193.25" y="297.9" width="10.47" height="126.9" fill="#000"/>
<rect x="214.19" y="297.9" width="10.47" height="126.9" fill="#000"/>
<rect x="235.13" y="297.9" width="10.47" height="126.9" fill="#000"/>
<rect x="517.82" y="297.9" width="10.47" height="126.9" fill="#000"/>
<text x="14.9" y="318.3" font-size="16" text-anchor="middle" fill="#2b4cc8" font-weight="normal" font-style="normal" font-family="'Liberation Sans', Arial, Helvetica, sans-serif">1</text>
<text y="318.1" font-size="15.6" font-family="'DejaVu Sans Mono', monospace" text-anchor="middle" fill="#000" stroke="#000" stroke-width="0.25"><tspan x="41.44">-</tspan><tspan x="51.91">Q</tspan><tspan x="62.38">L</tspan><tspan x="72.85">Q</tspan><tspan x="83.32" fill="#f2f2f2" stroke="#f2f2f2">I</tspan><tspan x="93.79">F</tspan><tspan x="104.26">N</tspan><tspan x="114.73" fill="#fff" stroke="#fff">L</tspan><tspan x="125.2" fill="#f2f2f2" stroke="#f2f2f2">M</tspan><tspan x="135.67">K</tspan><tspan x="146.14">F</tspan><tspan x="156.61">D</tspan><tspan x="167.08">S</tspan><tspan x="177.55">Y</tspan><tspan x="188.02">T</tspan><tspan x="198.49" fill="#fff" stroke="#fff">R</tspan><tspan x="208.96">F</tspan><tspan x="219.43" fill="#fff" stroke="#fff">L</tspan><tspan x="229.9">K</tspan><tspan x="240.37" fill="#fff" stroke="#fff">S</tspan><tspan x="250.84">P</tspan><tspan x="261.31">L</tspan><tspan x="271.78">-</tspan><tspan x="282.25">-</tspan><tspan x="292.72">-</tspan><tspan x="303.19">Y</tspan><tspan x="313.66">Q</tspan><tspan x="324.12">E</tspan><tspan x="334.6">C</tspan><tspan x="345.06" fill="#f2f2f2" stroke="#f2f2f2">I</tspan><tspan x="355.54">L</tspan><tspan x="366">A</tspan><tspan x="376.48">E</tspan><tspan x="386.95">V</tspan><tspan x="397.42">E</tspan><tspan x="407.89">G</tspan><tspan x="418.36">R</tspan><tspan x="428.83">A</tspan><tspan x="439.3">-</tspan><tspan x="449.77">L</tspan><tspan x="460.24">P</tspan><tspan x="470.71">D</tspan><tspan x="481.18">S</tspan><tspan x="491.65">Q</tspan><tspan x="502.12" fill="#f2f2f2" stroke="#f2f2f2">Q</tspan><tspan x="512.59">V</tspan><tspan x="523.06" fill="#fff" stroke="#fff">P</tspan><tspan x="533.53">S</tspan><tspan x="544" fill="#f2f2f2" stroke="#f2f2f2">S</tspan></text>
<text x="14.9" y="343.7" font-size="16" text-anchor="middle" fill="#2b4cc8" font-weight="normal" font-style="normal" font-family="'Liberation Sans', Arial, Helvetica, sans-serif">2</text>
<text y="343.5" font-size="15.6" font-family="'DejaVu Sans Mono', monospace" text-anchor="middle" fill="#000" stroke="#000" stroke-width="0.25"><tspan x="41.44">L</tspan><tspan x="51.91">R</tspan><tspan x="62.38">A</tspan><tspan x="72.85">G</tspan><tspan x="83.32" fill="#f2f2f2" stroke="#f2f2f2">L</tspan><tspan x="93.79">T</tspan><tspan x="104.26">A</tspan><tspan x="114.73" fill="#fff" stroke="#fff">L</tspan><tspan x="125.2" fill="#f2f2f2" stroke="#f2f2f2">L</tspan><tspan x="135.67">Q</tspan><tspan x="146.14">E</tspan><tspan x="156.61">S</tspan><tspan x="167.08">D</tspan><tspan x="177.55">P</tspan><tspan x="188.02">H</tspan><tspan x="198.49" fill="#fff" stroke="#fff">R</tspan><tspan x="208.96">Q</tspan><tspan x="219.43" fill="#fff" stroke="#fff">L</tspan><tspan x="229.9">D</tspan><tspan x="240.37" fill="#fff" stroke="#fff">S</tspan><tspan x="250.84">L</tspan><tspan x="261.31">E</tspan><tspan x="271.78">N</tspan><tspan x="282.25">V</tspan><tspan x="292.72">V</tspan><tspan x="303.19">V</tspan><tspan x="313.66">R</tspan><tspan x="324.12">A</tspan><tspan x="334.6">Y</tspan><tspan x="345.06" fill="#f2f2f2" stroke="#f2f2f2">F</tspan><tspan x="355.54">T</tspan><tspan x="366">K</tspan><tspan x="376.48">R</tspan><tspan x="386.95">I</tspan><tspan x="397.42">P</tspan><tspan x="407.89">E</tspan><tspan x="418.36">A</tspan><tspan x="428.83">G</tspan><tspan x="439.3">A</tspan><tspan x="449.77">V</tspan><tspan x="460.24">P</tspan><tspan x="470.71">G</tspan><tspan x="481.18">P</tspan><tspan x="491.65">A</tspan><tspan x="502.12" fill="#f2f2f2" stroke="#f2f2f2">D</tspan><tspan x="512.59">A</tspan><tspan x="523.06" fill="#fff" stroke="#fff">P</tspan><tspan x="533.53">K</tspan><tspan x="544" fill="#f2f2f2" stroke="#f2f2f2">T</tspan></text>
<text x="14.9" y="368.9" font-size="16" text-anchor="middle" fill="#2b4cc8" font-weight="normal" font-style="normal" font-family="'Liberation Sans', Arial, Helvetica, sans-serif">3</text>
<text y="368.7" font-size="15.6" font-family="'DejaVu Sans Mono', monospace" text-anchor="middle" fill="#000" stroke="#000" stroke-width="0.25"><tspan x="41.44">L</tspan><tspan x="51.91">R</tspan><tspan x="62.38">A</tspan><tspan x="72.85">Q</tspan><tspan x="83.32" fill="#f2f2f2" stroke="#f2f2f2">L</tspan><tspan x="93.79">T</tspan><tspan x="104.26">H</tspan><tspan x="114.73" fill="#fff" stroke="#fff">L</tspan><tspan x="125.2" fill="#f2f2f2" stroke="#f2f2f2">L</tspan><tspan x="135.67">Q</tspan><tspan x="146.14">E</tspan><tspan x="156.61">E</tspan><tspan x="167.08">D</tspan><tspan x="177.55">P</tspan><tspan x="188.02">H</tspan><tspan x="198.49" fill="#fff" stroke="#fff">R</tspan><tspan x="208.96">T</tspan><tspan x="219.43" fill="#fff" stroke="#fff">L</tspan><tspan x="229.9">D</tspan><tspan x="240.37" fill="#fff" stroke="#fff">S</tspan><tspan x="250.84">L</tspan><tspan x="261.31">E</tspan><tspan x="271.78">S</tspan><tspan x="282.25">V</tspan><tspan x="292.72">V</tspan><tspan x="303.19">I</tspan><tspan x="313.66">R</tspan><tspan x="324.12">T</tspan><tspan x="334.6">Y</tspan><tspan x="345.06" fill="#f2f2f2" stroke="#f2f2f2">L</tspan><tspan x="355.54">T</tspan><tspan x="366">N</tspan><tspan x="376.48">-</tspan><tspan x="386.95">-</tspan><tspan x="397.42">E</tspan><tspan x="407.89">G</tspan><tspan x="418.36">Y</tspan><tspan x="428.83">G</tspan><tspan x="439.3">-</tspan><tspan x="449.77">-</tspan><tspan x="460.24">T</tspan><tspan x="470.71">P</tspan><tspan x="481.18">A</tspan><tspan x="491.65">E</tspan><tspan x="502.12" fill="#f2f2f2" stroke="#f2f2f2">D</tspan><tspan x="512.59">G</tspan><tspan x="523.06" fill="#fff" stroke="#fff">P</tspan><tspan x="533.53">L</tspan><tspan x="544" fill="#f2f2f2" stroke="#f2f2f2">T</tspan></text>
<text x="14.9" y="394.2" font-size="16" text-anchor="middle" fill="#2b4cc8" font-weight="normal" font-style="normal" font-family="'Liberation Sans', Arial, Helvetica, sans-serif">4</text>
<text y="394" font-size="15.6" font-family="'DejaVu Sans Mono', monospace" text-anchor="middle" fill="#000" stroke="#000" stroke-width="0.25"><tspan x="41.44">L</tspan><tspan x="51.91">G</tspan><tspan x="62.38">A</tspan><tspan x="72.85">A</tspan><tspan x="83.32" fill="#f2f2f2" stroke="#f2f2f2">L</tspan><tspan x="93.79">R</tspan><tspan x="104.26">A</tspan><tspan x="114.73" fill="#fff" stroke="#fff">L</tspan><tspan x="125.2" fill="#f2f2f2" stroke="#f2f2f2">L</tspan><tspan x="135.67">R</tspan><tspan x="146.14">E</tspan><tspan x="156.61">N</tspan><tspan x="167.08">D</tspan><tspan x="177.55">P</tspan><tspan x="188.02">A</tspan><tspan x="198.49" fill="#fff" stroke="#fff">R</tspan><tspan x="208.96">P</tspan><tspan x="219.43" fill="#fff" stroke="#fff">L</tspan><tspan x="229.9">D</tspan><tspan x="240.37" fill="#fff" stroke="#fff">S</tspan><tspan x="250.84">L</tspan><tspan x="261.31">E</tspan><tspan x="271.78">S</tspan><tspan x="282.25">V</tspan><tspan x="292.72">T</tspan><tspan x="303.19">A</tspan><tspan x="313.66">L</tspan><tspan x="324.12">S</tspan><tspan x="334.6">Y</tspan><tspan x="345.06" fill="#f2f2f2" stroke="#f2f2f2">L</tspan><tspan x="355.54">T</tspan><tspan x="366">R</tspan><tspan x="376.48">-</tspan><tspan x="386.95">-</tspan><tspan x="397.42">K</tspan><tspan x="407.89">G</tspan><tspan x="418.36">L</tspan><tspan x="428.83">A</tspan><tspan x="439.3">Q</tspan><tspan x="449.77">R</tspan><tspan x="460.24">E</tspan><tspan x="470.71">P</tspan><tspan x="481.18">A</tspan><tspan x="491.65">G</tspan><tspan x="502.12" fill="#f2f2f2" stroke="#f2f2f2">D</tspan><tspan x="512.59">R</tspan><tspan x="523.06" fill="#fff" stroke="#fff">P</tspan><tspan x="533.53">S</tspan><tspan x="544" fill="#f2f2f2" stroke="#f2f2f2">T</tspan></text>
<text x="14.9" y="419.5" font-size="16" text-anchor="middle" fill="#2b4cc8" font-weight="normal" font-style="normal" font-family="'Liberation Sans', Arial, Helvetica, sans-serif">5</text>
<text y="419.3" font-size="15.6" font-family="'DejaVu Sans Mono', monospace" text-anchor="middle" fill="#000" stroke="#000" stroke-width="0.25"><tspan x="41.44">L</tspan><tspan x="51.91">Q</tspan><tspan x="62.38">E</tspan><tspan x="72.85">E</tspan><tspan x="83.32" fill="#f2f2f2" stroke="#f2f2f2">L</tspan><tspan x="93.79">A</tspan><tspan x="104.26">G</tspan><tspan x="114.73" fill="#fff" stroke="#fff">L</tspan><tspan x="125.2" fill="#f2f2f2" stroke="#f2f2f2">L</tspan><tspan x="135.67">Q</tspan><tspan x="146.14">E</tspan><tspan x="156.61">D</tspan><tspan x="167.08">D</tspan><tspan x="177.55">P</tspan><tspan x="188.02">R</tspan><tspan x="198.49" fill="#fff" stroke="#fff">R</tspan><tspan x="208.96">R</tspan><tspan x="219.43" fill="#fff" stroke="#fff">L</tspan><tspan x="229.9">D</tspan><tspan x="240.37" fill="#fff" stroke="#fff">S</tspan><tspan x="250.84">L</tspan><tspan x="261.31">E</tspan><tspan x="271.78">T</tspan><tspan x="282.25">V</tspan><tspan x="292.72">V</tspan><tspan x="303.19">V</tspan><tspan x="313.66">L</tspan><tspan x="324.12">S</tspan><tspan x="334.6">Y</tspan><tspan x="345.06" fill="#f2f2f2" stroke="#f2f2f2">F</tspan><tspan x="355.54">A</tspan><tspan x="366">R</tspan><tspan x="376.48">Q</tspan><tspan x="386.95">A</tspan><tspan x="397.42">P</tspan><tspan x="407.89">G</tspan><tspan x="418.36">R</tspan><tspan x="428.83">T</tspan><tspan x="439.3">-</tspan><tspan x="449.77">L</tspan><tspan x="460.24">P</tspan><tspan x="470.71">E</tspan><tspan x="481.18">L</tspan><tspan x="491.65">P</tspan><tspan x="502.12" fill="#f2f2f2" stroke="#f2f2f2">D</tspan><tspan x="512.59">A</tspan><tspan x="523.06" fill="#fff" stroke="#fff">P</tspan><tspan x="533.53">R</tspan><tspan x="544" fill="#f2f2f2" stroke="#f2f2f2">T</tspan></text>
<rect x="150.4" y="431.3" width="114.9" height="3.7" fill="#14a34e"/>
<text x="0.6" y="478.6" font-size="22" text-anchor="start" fill="#000" font-weight="bold" font-style="normal" font-family="'Liberation Sans', Arial, Helvetica, sans-serif">c</text>
<path d="M3 629.4L3 626.62L3.25 627.3L3.5 626.82L3.75 626.48L4 626.93L4.25 626.73L4.5 627.08L4.75 626.83L5 626.93L5.25 627.01L5.5 626.6L5.75 626.91L6 625.92L6.25 626.62L6.5 626.87L6.75 626.7L7 626.15L7.25 625.86L7.5 625.52L7.75 625.83L8 626.91L8.25 626.17L8.5 626.1L8.75 625.65L9 626.82L9.25 626.12L9.5 626.46L9.75 626.31L10 626.35L10.25 626.05L10.5 625.72L10.75 624.57L11 626.4L11.25 626.38L11.5 626.17L11.75 625.75L12 626.47L12.25 624.76L12.5 626.63L12.75 626.12L13 626.31L13.25 626.36L13.5 626.23L13.75 626.06L14 625.69L14.25 626.07L14.5 626.11L14.75 625.64L15 625.91L15.25 625.96L15.5 626.26L15.75 625.49L16 625.58L16.25 625.13L16.5 626.12L16.75 625.98L17 625.4L17.25 626.64L17.5 625.39L17.75 626.03L18 626.21L18.25 626.24L18.5 625.74L18.75 625.91L19 625.36L19.25 626.38L19.5 625.35L19.75 626.47L20 626.05L20.25 625.84L20.5 626.49L20.75 626.26L21 626.58L21.25 625.98L21.5 626.51L21.75 626.7L22 625.22L22.25 625.46L22.5 625.2L22.75 624.49L23 624.45L23.25 624.45L23.5 625.41L23.75 626.05L24 626.77L24.25 627.14L24.5 627.19L24.75 625.79L25 627.4L25.25 626.67L25.5 627.15L25.75 625.98L26 627.24L26.25 626.33L26.5 626.77L26.75 626.56L27 626.91L27.25 626.54L27.5 626.3L27.75 626.31L28 626.37L28.25 626.2L28.5 625.76L28.75 625.39L29 625.46L29.25 624.57L29.5 623.99L29.75 623.16L30 622.55L30.25 623.97L30.5 624.7L30.75 624.49L31 623.71L31.25 625.09L31.5 624.24L31.75 623.73L32 624.8L32.25 623.03L32.5 625.12L32.75 624.72L33 624.05L33.25 623.96L33.5 624.81L33.75 623.29L34 624.24L34.25 623.08L34.5 624.81L34.75 622.99L35 622.9L35.25 621.87L35.5 622.38L35.75 621.52L36 622.68L36.25 623.21L36.5 622.28L36.75 624L37 623.67L37.25 623.92L37.5 624.77L37.75 622.53L38 624.01L38.25 622.96L38.5 621.93L38.75 623.39L39 623.63L39.25 621.55L39.5 623.53L39.75 621.4L40 624.65L40.25 619.22L40.5 620.88L40.75 620.61L41 619.99L41.25 622.05L41.5 623.37L41.75 621.09L42 621.65L42.25 621.03L42.5 623.99L42.75 621.24L43 622.33L43.25 621.68L43.5 623.7L43.75 624.38L44 623.2L44.25 624.57L44.5 622.42L44.75 622.12L45 622.21L45.25 623.21L45.5 623.25L45.75 622.67L46 622.88L46.25 623.13L46.5 622.16L46.75 622.21L47 622.8L47.25 622.16L47.5 623.1L47.75 623.48L48 623.67L48.25 622.97L48.5 623.77L48.75 624.2L49 622.63L49.25 624.48L49.5 624.09L49.75 624.45L50 622.32L50.25 623.91L50.5 624.91L50.75 624.12L51 625.09L51.25 623.64L51.5 625.33L51.75 625L52 624.09L52.25 625.2L52.5 624.16L52.75 624.4L53 624.7L53.25 625.04L53.5 625.52L53.75 625.66L54 626.48L54.25 626.41L54.5 626.05L54.75 625.12L55 626.11L55.25 625.85L55.5 626.82L55.75 626.49L56 626.37L56.25 626.13L56.5 627.22L56.75 627.32L57 626.46L57.25 626.53L57.5 626L57.75 626.69L58 627.29L58.25 627.36L58.5 626.69L58.75 624.97L59 623.59L59.25 623.47L59.5 623.59L59.75 624.97L60 626.59L60.25 626.8L60.5 627.31L60.75 627.01L61 627.33L61.25 627.39L61.5 627.26L61.75 627.07L62 627.11L62.25 627.34L62.5 627.15L62.75 627.13L63 626.29L63.25 627.28L63.5 627.34L63.75 626.26L64 627.31L64.25 627.19L64.5 627.23L64.75 626.31L65 625.76L65.25 624.82L65.5 624.74L65.75 623.99L66 623.88L66.25 623.99L66.5 625.23L66.75 627.09L67 626.32L67.25 627.15L67.5 627.28L67.75 627.39L68 626.65L68.25 626.35L68.5 626.87L68.75 627.11L69 627.35L69.25 626.98L69.5 626.88L69.75 626.78L70 626.78L70.25 627.15L70.5 626.73L70.75 627.06L71 627.23L71.25 627.05L71.5 627.2L71.75 626.76L72 626.79L72.25 626.62L72.5 626.8L72.75 627.06L73 627.02L73.25 625.76L73.5 627.2L73.75 626.52L74 627.33L74.25 627.16L74.5 626.32L74.75 627.22L75 627.11L75.25 626.84L75.5 625.88L75.75 626.21L76 626.94L76.25 626.57L76.5 627.13L76.75 626.71L77 626.88L77.25 626.96L77.5 627.02L77.75 626.53L78 626.39L78.25 626.63L78.5 627.39L78.75 627.36L79 627.34L79.25 626.67L79.5 626.3L79.75 626.73L80 627.24L80.25 627.27L80.5 626.76L80.75 626.29L81 625.59L81.25 624.56L81.5 624.47L81.75 624.56L82 625L82.25 625.08L82.5 625.92L82.75 627.07L83 626.63L83.25 626.95L83.5 627.26L83.75 626.95L84 627.4L84.25 625.48L84.5 626.7L84.75 626.18L85 626.6L85.25 625.53L85.5 626.11L85.75 624.91L86 624.79L86.25 624.99L86.5 625.77L86.75 625.83L87 625.14L87.25 624.86L87.5 625.66L87.75 624.05L88 624.46L88.25 623.99L88.5 624.57L88.75 623.8L89 623.13L89.25 623.46L89.5 624.04L89.75 623.38L90 621.85L90.25 622.34L90.5 624.78L90.75 624.63L91 625.03L91.25 623.22L91.5 621.59L91.75 621.57L92 622.9L92.25 624.29L92.5 622.52L92.75 622.55L93 622.52L93.25 622.97L93.5 620.16L93.75 622.46L94 622.92L94.25 621.04L94.5 623.2L94.75 619.41L95 617.42L95.25 621.07L95.5 617.47L95.75 619.7L96 621.09L96.25 623.22L96.5 623.77L96.75 621.96L97 623.63L97.25 621.08L97.5 622.51L97.75 624.21L98 619.86L98.25 620.36L98.5 622.14L98.75 623.74L99 620.38L99.25 621.79L99.5 621.56L99.75 620.47L100 623.84L100.25 620.8L100.5 620.12L100.75 623.08L101 622.85L101.25 620.45L101.5 622.02L101.75 622.66L102 619.83L102.25 624.01L102.5 622.72L102.75 621.76L103 623.51L103.25 622.42L103.5 618.1L103.75 624.01L104 623.98L104.25 620.12L104.5 624.04L104.75 619.47L105 624.47L105.25 621.04L105.5 622.57L105.75 619.64L106 621.83L106.25 621.64L106.5 621.7L106.75 623.07L107 621.76L107.25 621.84L107.5 620.3L107.75 620.09L108 623.46L108.25 620.46L108.5 622.71L108.75 620.41L109 621.17L109.25 622.71L109.5 622.47L109.75 622.8L110 623.14L110.25 624.13L110.5 623.72L110.75 625.11L111 623.73L111.25 625.44L111.5 623.62L111.75 623.98L112 624.28L112.25 625.29L112.5 624L112.75 624.05L113 625.4L113.25 624.68L113.5 626.21L113.75 625.74L114 626.4L114.25 625.75L114.5 626.13L114.75 626.23L115 625.78L115.25 626.39L115.5 627.04L115.75 626.92L116 626.83L116.25 627.4L116.5 627.08L116.75 627.19L117 626.23L117.25 626.64L117.5 626.85L117.75 626.67L118 627.09L118.25 625.23L118.5 623.99L118.75 623.89L119 623.99L119.25 625.23L119.5 626.94L119.75 626.68L120 626.08L120.25 626.34L120.5 627.29L120.75 626.61L121 626.71L121.25 625.73L121.5 626.34L121.75 626.83L122 627.13L122.25 626.44L122.5 626.87L122.75 627.04L123 626.56L123.25 626.92L123.5 626.02L123.75 626.5L124 626.8L124.25 626.94L124.5 626.69L124.75 626.26L125 625.83L125.25 625.23L125.5 625.22L125.75 625.11L126 625.56L126.25 626.18L126.5 626.71L126.75 626.21L127 626.63L127.25 626.57L127.5 626.86L127.75 626.22L128 626.18L128.25 625.83L128.5 625.07L128.75 624.05L129 624.1L129.25 624.22L129.5 625.08L129.75 625.78L130 625.77L130.25 626.76L130.5 626.01L130.75 626.02L131 626.51L131.25 625.75L131.5 626.38L131.75 626.13L132 625.8L132.25 626.36L132.5 625.72L132.75 626.4L133 625.86L133.25 625.48L133.5 625.4L133.75 624.83L134 624.75L134.25 624.85L134.5 625.3L134.75 626.73L135 626.47L135.25 625.3L135.5 624.26L135.75 622.99L136 623.2L136.25 623.3L136.5 624.55L136.75 625.96L137 625.91L137.25 625.92L137.5 626.05L137.75 626.72L138 625.97L138.25 626.16L138.5 625.83L138.75 626.09L139 626.21L139.25 626.23L139.5 626.37L139.75 626.63L140 625.57L140.25 625.77L140.5 625.71L140.75 626.66L141 626.19L141.25 625.7L141.5 626.57L141.75 626.03L142 625.97L142.25 626.01L142.5 626.01L142.75 626.53L143 626.13L143.25 626.63L143.5 626.29L143.75 626.14L144 626.33L144.25 626.75L144.5 625.8L144.75 625.01L145 626.59L145.25 626.45L145.5 626.74L145.75 626.52L146 625.6L146.25 625.39L146.5 626.05L146.75 626.34L147 626.38L147.25 627.06L147.5 626.89L147.75 626.72L148 627.05L148.25 626.09L148.5 626.63L148.75 626.96L149 627.29L149.25 626.99L149.5 626.02L149.75 627.16L150 627.3L150.25 627.36L150.5 626.91L150.75 626.4L151 627.14L151.25 627.06L151.5 627.37L151.75 627.08L152 626.64L152.25 626.87L152.5 626.95L152.75 626.78L153 627.22L153.25 626.98L153.5 626.2L153.75 626.75L154 624.87L154.25 626.21L154.5 625.51L154.75 625.37L155 624.81L155.25 626.09L155.5 625.37L155.75 625.3L156 624.6L156.25 625.36L156.5 625.63L156.75 623.85L157 625.69L157.25 624.14L157.5 625.34L157.75 625.22L158 624.31L158.25 623.77L158.5 624.03L158.75 622.46L159 622.84L159.25 623.83L159.5 622.78L159.75 621.77L160 622.57L160.25 622.85L160.5 622.31L160.75 624.05L161 623.82L161.25 623.59L161.5 623.65L161.75 621.43L162 623.76L162.25 622.7L162.5 624.33L162.75 621.87L163 621.74L163.25 623.46L163.5 623.33L163.75 622.73L164 621.34L164.25 623.44L164.5 622.53L164.75 623.15L165 623.96L165.25 623.56L165.5 621.87L165.75 623.26L166 620.35L166.25 620.27L166.5 623.33L166.75 624.27L167 622.78L167.25 622.02L167.5 622.18L167.75 618.86L168 621.54L168.25 621.88L168.5 620.19L168.75 623.84L169 623.37L169.25 623.22L169.5 623.15L169.75 621.79L170 621.64L170.25 619.88L170.5 619.03L170.75 620.36L171 618.68L171.25 621.72L171.5 620.8L171.75 624.09L172 621.4L172.25 623.48L172.5 623.34L172.75 621.3L173 620.49L173.25 622.9L173.5 621.65L173.75 620.22L174 621.16L174.25 621.33L174.5 621.96L174.75 623.19L175 622.82L175.25 621.99L175.5 620.97L175.75 623.75L176 620.98L176.25 622.61L176.5 623.85L176.75 623.48L177 624.52L177.25 622.29L177.5 624.21L177.75 623.18L178 622.68L178.25 623.89L178.5 623.43L178.75 624.22L179 622.97L179.25 624.26L179.5 623.86L179.75 622.79L180 624.78L180.25 624.54L180.5 625.05L180.75 625.15L181 625.42L181.25 624.53L181.5 625.01L181.75 625.8L182 622.53L182.25 625.89L182.5 624.88L182.75 624.22L183 625.35L183.25 625.48L183.5 624.1L183.75 623.62L184 624.11L184.25 624.29L184.5 624.73L184.75 626.05L185 626.44L185.25 626.2L185.5 626.49L185.75 626.9L186 627.37L186.25 626.78L186.5 627.12L186.75 626.85L187 626.8L187.25 626.75L187.5 626.5L187.75 626.43L188 627.39L188.25 627.2L188.5 626.5L188.75 627L189 626.94L189.25 626.41L189.5 626L189.75 626.45L190 626.58L190.25 627.33L190.5 627.06L190.75 627.18L191 625.58L191.25 626.65L191.5 626.75L191.75 627.11L192 626.36L192.25 626L192.5 625L192.75 623.8L193 623.61L193.25 623.64L193.5 624.99L193.75 624.93L194 624.94L194.25 625.03L194.5 625.43L194.75 626.07L195 625.46L195.25 625.42L195.5 626.71L195.75 626.58L196 626.36L196.25 625.96L196.5 626.53L196.75 626.12L197 626.23L197.25 626.71L197.5 625.93L197.75 626.16L198 625.93L198.25 626.33L198.5 626.11L198.75 626.35L199 625.75L199.25 626L199.5 626.11L199.75 626.48L200 626.73L200.25 625.68L200.5 626.4L200.75 626.72L201 625.22L201.25 625.87L201.5 626.16L201.75 626.01L202 625.54L202.25 625.97L202.5 625.41L202.75 626.55L203 626.64L203.25 626.33L203.5 625.75L203.75 626.52L204 625.93L204.25 625.62L204.5 625.45L204.75 625.46L205 625.98L205.25 625.18L205.5 626.17L205.75 625.32L206 626.06L206.25 625.09L206.5 626.08L206.75 625.92L207 625.01L207.25 625.55L207.5 625.8L207.75 625.58L208 626.6L208.25 626L208.5 626.19L208.75 625.37L209 625.73L209.25 626.05L209.5 625.48L209.75 625.61L210 626.13L210.25 625.68L210.5 626.58L210.75 625.89L211 626.07L211.25 626.03L211.5 625.63L211.75 625.68L212 626.06L212.25 625.73L212.5 626.48L212.75 626.38L213 625.57L213.25 626.32L213.5 625.61L213.75 626.77L214 624.8L214.25 626.18L214.5 626.33L214.75 625.92L215 626.32L215.25 625.13L215.5 626.19L215.75 626.2L216 625.49L216.25 625.47L216.5 624.75L216.75 623.85L217 624.25L217.25 623.96L217.5 624.92L217.75 625.79L218 626.17L218.25 626.42L218.5 625.62L218.75 624.77L219 626.64L219.25 626.32L219.5 625.2L219.75 626.57L220 626.29L220.25 626.66L220.5 626.29L220.75 626.04L221 625.8L221.25 626.37L221.5 626.25L221.75 626.19L222 626L222.25 625.57L222.5 625.79L222.75 626.55L223 626.95L223.25 626.76L223.5 626.53L223.75 624.65L224 623.12L224.25 623.24L224.5 623.18L224.75 624.75L225 626.46L225.25 625.75L225.5 625L225.75 624.08L226 624.13L226.25 624.09L226.5 625.17L226.75 626.52L227 626.52L227.25 626.8L227.5 626.68L227.75 626.49L228 626.96L228.25 627.15L228.5 626.96L228.75 627.19L229 627.16L229.25 627.05L229.5 627.27L229.75 627.06L230 626.49L230.25 627.18L230.5 626.88L230.75 626.61L231 626.84L231.25 626.39L231.5 627.35L231.75 626.3L232 627.3L232.25 626.19L232.5 626.96L232.75 626.28L233 626.64L233.25 627.09L233.5 626.86L233.75 626.81L234 626.21L234.25 625.41L234.5 626.72L234.75 625.69L235 626.22L235.25 626.05L235.5 625.64L235.75 624.98L236 625L236.25 625.32L236.5 624.98L236.75 624.84L237 624.89L237.25 625.1L237.5 624.23L237.75 625.93L238 625.05L238.25 625.18L238.5 624.9L238.75 625.1L239 623.3L239.25 624.72L239.5 624.77L239.75 623.51L240 621.44L240.25 622.08L240.5 621.47L240.75 623.49L241 624.16L241.25 622.74L241.5 624.57L241.75 623.85L242 623.46L242.25 623.69L242.5 622.22L242.75 624.66L243 622.77L243.25 622.51L243.5 621.93L243.75 623.25L244 622.1L244.25 625.28L244.5 622.72L244.75 624.8L245 624.49L245.25 623.26L245.5 621.43L245.75 621.49L246 622.1L246.25 622.8L246.5 623.59L246.75 623.51L247 621.67L247.25 623.96L247.5 623.18L247.75 624.38L248 622.31L248.25 624.37L248.5 624.61L248.75 622.98L249 622.24L249.25 624.24L249.5 621L249.75 623.75L250 624.53L250.25 624.36L250.5 622.29L250.75 623.66L251 621.59L251.25 622.97L251.5 620.44L251.75 621.53L252 623.71L252.25 622.81L252.5 622.94L252.75 623.42L253 623.44L253.25 620.89L253.5 622.37L253.75 623.46L254 624.61L254.25 621.62L254.5 624.56L254.75 621.15L255 622.72L255.25 623.11L255.5 622.52L255.75 622.21L256 620.83L256.25 624.31L256.5 623.11L256.75 621.99L257 622.52L257.25 622.49L257.5 623.06L257.75 623.67L258 622L258.25 623.47L258.5 623.71L258.75 623.85L259 622.78L259.25 622.6L259.5 623.47L259.75 624.74L260 623.32L260.25 622.49L260.5 624.32L260.75 623.67L261 624.65L261.25 624.12L261.5 624.61L261.75 622.64L262 623.9L262.25 623.14L262.5 623.12L262.75 623.71L263 625.2L263.25 623.3L263.5 624.89L263.75 624.6L264 625.02L264.25 624.14L264.5 624.19L264.75 623.3L265 624.8L265.25 624.23L265.5 624.07L265.75 625.5L266 624.38L266.25 625.35L266.5 625.28L266.75 625.44L267 625.63L267.25 625.06L267.5 625.7L267.75 625.33L268 625.53L268.25 624.85L268.5 626.57L268.75 626.01L269 624.87L269.25 623.72L269.5 623.89L269.75 624.16L270 625.46L270.25 627.08L270.5 625.95L270.75 627.16L271 626.64L271.25 627.1L271.5 626.1L271.75 627.3L272 626.85L272.25 626.39L272.5 627.15L272.75 625.6L273 624.56L273.25 624.48L273.5 624.56L273.75 625.6L274 627.04L274.25 627.07L274.5 626.26L274.75 626.8L275 627.16L275.25 627.22L275.5 627.38L275.75 626.5L276 626.4L276.25 627.04L276.5 625.16L276.75 623.88L277 623.77L277.25 623.88L277.5 625.16L277.75 626.94L278 626.11L278.25 627.38L278.5 627.13L278.75 627.12L279 626.97L279.25 626.67L279.5 625.31L279.75 627.32L280 627.32L280.25 626.86L280.5 627.19L280.75 626.9L281 626.84L281.25 626.71L281.5 626.67L281.75 627.35L282 626.83L282.25 627.21L282.5 626.03L282.75 625.24L283 625.18L283.25 625.24L283.5 626.03L283.75 627.18L284 626.74L284.25 627.24L284.5 626.61L284.75 627.22L285 626.82L285.25 627.06L285.5 627.25L285.5 629.4Z" fill="#000" stroke="none"/>
<line x1="35.5" y1="628.4" x2="35.5" y2="527.9" stroke="#000" stroke-width="1.4"/>
<line x1="33.5" y1="628.4" x2="33.5" y2="609.8" stroke="#000" stroke-width="0.9"/>
<line x1="38.5" y1="628.4" x2="38.5" y2="613.8" stroke="#000" stroke-width="0.9"/>
<line x1="31.5" y1="628.4" x2="31.5" y2="620.6" stroke="#000" stroke-width="0.9"/>
<line x1="47.5" y1="628.4" x2="47.5" y2="577.9" stroke="#000" stroke-width="1.4"/>
<line x1="45.5" y1="628.4" x2="45.5" y2="612.5" stroke="#000" stroke-width="0.9"/>
<line x1="50.5" y1="628.4" x2="50.5" y2="619.1" stroke="#000" stroke-width="0.9"/>
<line x1="72.5" y1="628.4" x2="72.5" y2="616.4" stroke="#000" stroke-width="0.9"/>
<line x1="82.5" y1="628.4" x2="82.5" y2="613.7" stroke="#000" stroke-width="0.9"/>
<line x1="62.5" y1="628.4" x2="62.5" y2="623.4" stroke="#000" stroke-width="0.9"/>
<line x1="93.5" y1="628.4" x2="93.5" y2="507.9" stroke="#000" stroke-width="1.4"/>
<line x1="91.5" y1="628.4" x2="91.5" y2="598.1" stroke="#000" stroke-width="0.9"/>
<line x1="96.5" y1="628.4" x2="96.5" y2="608" stroke="#000" stroke-width="0.9"/>
<line x1="89.5" y1="628.4" x2="89.5" y2="618.8" stroke="#000" stroke-width="0.9"/>
<line x1="106.5" y1="628.4" x2="106.5" y2="534.1" stroke="#000" stroke-width="1.4"/>
<line x1="104.5" y1="628.4" x2="104.5" y2="600.8" stroke="#000" stroke-width="0.9"/>
<line x1="108.5" y1="628.4" x2="108.5" y2="615.2" stroke="#000" stroke-width="0.9"/>
<line x1="112.5" y1="628.4" x2="112.5" y2="617.9" stroke="#000" stroke-width="0.9"/>
<line x1="162.5" y1="628.4" x2="162.5" y2="504.9" stroke="#000" stroke-width="1.4"/>
<line x1="160.5" y1="628.4" x2="160.5" y2="596.3" stroke="#000" stroke-width="0.9"/>
<line x1="165.5" y1="628.4" x2="165.5" y2="608" stroke="#000" stroke-width="0.9"/>
<line x1="157.5" y1="628.4" x2="157.5" y2="620.8" stroke="#000" stroke-width="0.9"/>
<line x1="176.5" y1="628.4" x2="176.5" y2="544.9" stroke="#000" stroke-width="1.4"/>
<line x1="174.5" y1="628.4" x2="174.5" y2="603.5" stroke="#000" stroke-width="0.9"/>
<line x1="179.5" y1="628.4" x2="179.5" y2="610.7" stroke="#000" stroke-width="0.9"/>
<line x1="182.5" y1="628.4" x2="182.5" y2="611.6" stroke="#000" stroke-width="0.9"/>
<line x1="243.5" y1="628.4" x2="243.5" y2="534.4" stroke="#000" stroke-width="1.4"/>
<line x1="241.5" y1="628.4" x2="241.5" y2="606.6" stroke="#000" stroke-width="0.9"/>
<line x1="246.5" y1="628.4" x2="246.5" y2="616" stroke="#000" stroke-width="0.9"/>
<line x1="258.5" y1="628.4" x2="258.5" y2="562.4" stroke="#000" stroke-width="1.4"/>
<line x1="256.5" y1="628.4" x2="256.5" y2="604.2" stroke="#000" stroke-width="0.9"/>
<line x1="261.5" y1="628.4" x2="261.5" y2="617.6" stroke="#000" stroke-width="0.9"/>
<line x1="265.5" y1="628.4" x2="265.5" y2="619.8" stroke="#000" stroke-width="0.9"/>
<line x1="280.5" y1="628.4" x2="280.5" y2="623.9" stroke="#000" stroke-width="0.9"/>
<line x1="14.5" y1="628.4" x2="14.5" y2="624.4" stroke="#000" stroke-width="0.9"/>
<line x1="3" y1="637" x2="285.8" y2="637" stroke="#000" stroke-width="2.2"/>
<line x1="23" y1="637" x2="23" y2="642.5" stroke="#000" stroke-width="1.8"/>
<line x1="69.9" y1="637" x2="69.9" y2="642.5" stroke="#000" stroke-width="1.8"/>
<line x1="116.8" y1="637" x2="116.8" y2="642.5" stroke="#000" stroke-width="1.8"/>
<line x1="163.7" y1="637" x2="163.7" y2="642.5" stroke="#000" stroke-width="1.8"/>
<line x1="210.6" y1="637" x2="210.6" y2="642.5" stroke="#000" stroke-width="1.8"/>
<line x1="257.5" y1="637" x2="257.5" y2="642.5" stroke="#000" stroke-width="1.8"/>
<text x="23.7" y="660.4" font-size="16" text-anchor="middle" fill="#000" font-weight="normal" font-style="normal" font-family="'Liberation Sans', Arial, Helvetica, sans-serif">800</text>
<text x="70.6" y="660.4" font-size="16" text-anchor="middle" fill="#000" font-weight="normal" font-style="normal" font-family="'Liberation Sans', Arial, Helvetica, sans-serif">850</text>
<text x="117.5" y="660.4" font-size="16" text-anchor="middle" fill="#000" font-weight="normal" font-style="normal" font-family="'Liberation Sans', Arial, Helvetica, sans-serif">900</text>
<text x="164.4" y="660.4" font-size="16" text-anchor="middle" fill="#000" font-weight="normal" font-style="normal" font-family="'Liberation Sans', Arial, Helvetica, sans-serif">950</text>
<text x="211.3" y="660.4" font-size="16" text-anchor="middle" fill="#000" font-weight="normal" font-style="normal" font-family="'Liberation Sans', Arial, Helvetica, sans-serif">1000</text>
<text x="258.2" y="660.4" font-size="16" text-anchor="middle" fill="#000" font-weight="normal" font-style="normal" font-family="'Liberation Sans', Arial, Helvetica, sans-serif">1050</text>
<text x="147.8" y="681.5" font-size="16" text-anchor="middle" fill="#000" font-weight="normal" font-style="italic" font-family="'Liberation Sans', Arial, Helvetica, sans-serif">m/z</text>
<text x="0" y="525.5" font-size="16" fill="#2b4cc8" font-family="'Liberation Sans', Arial, Helvetica, sans-serif">[M + 8H]<tspan font-size="11.3" dx="1" dy="-6.2">8+</tspan></text>
<text x="59" y="503" font-size="16" fill="#2b4cc8" font-family="'Liberation Sans', Arial, Helvetica, sans-serif">[M + 9H]<tspan font-size="11.3" dx="1" dy="-6.2">9+</tspan></text>
<text x="144.9" y="501.5" font-size="16" fill="#2b4cc8" font-family="'Liberation Sans', Arial, Helvetica, sans-serif">[M + 10H]<tspan font-size="11.3" dx="1" dy="-6.2">10+</tspan></text>
<text x="210.5" y="527" font-size="16" fill="#2b4cc8" font-family="'Liberation Sans', Arial, Helvetica, sans-serif">[M + 11H]<tspan font-size="11.3" dx="1" dy="-6.2">11+</tspan></text>
<path d="M298 619.2L298.5 620.39L299 621.41L299.5 622.3L300 623.09L300.5 623.79L301 624.41L301.5 624.93L302 625.36L302.5 625.71L303 625.97L303.5 626.17L304 626.31L304.5 626.41L305 626.47L305.5 626.51L306 626.53L306.5 626.53L307 626.51L307.5 626.48L308 626.42L308.5 626.34L309 626.23L309.5 626.08L310 625.89L310.5 625.66L311 625.37L311.5 625.05L312 624.67L312.5 624.26L313 623.79L313.5 623.24L314 622.6L314.5 621.91L315 621.28L315.5 620.87L316 620.83L316.5 621.17L317 621.78L317.5 622.47L318 623.12L318.5 623.68L319 624.17L319.5 624.59L320 624.97L320.5 625.31L321 625.61L321.5 625.85L322 626.05L322.5 626.21L323 626.32L323.5 626.41L324 626.47L324.5 626.5L325 626.52L325.5 626.51L326 626.49L326.5 626.44L327 626.35L327.5 626.21L328 626.01L328.5 625.73L329 625.35L329.5 624.84L330 624.19L330.5 623.39L331 622.42L331.5 621.29L332 620.02L332.5 618.6L333 616.99L333.5 615.13L334 612.96L334.5 610.6L335 608.44L335.5 607.05L336 606.91L336.5 608.08L337 610.14L337.5 612.5L338 614.72L338.5 616.64L339 618.29L339.5 619.75L340 621.05L340.5 622.21L341 623.2L341.5 624.04L342 624.72L342.5 625.25L343 625.66L343.5 625.95L344 626.15L344.5 626.27L345 626.33L345.5 626.32L346 626.25L346.5 626.09L347 625.84L347.5 625.46L348 624.91L348.5 624.16L349 623.15L349.5 621.85L350 620.23L350.5 618.27L351 615.98L351.5 613.37L352 610.46L352.5 607.17L353 603.39L353.5 598.97L354 594.06L354.5 589.35L355 586.01L355.5 585.16L356 587.1L356.5 591.14L357 596.05L357.5 600.81L358 604.97L358.5 608.54L359 611.66L359.5 614.45L360 616.93L360.5 619.09L361 620.92L361.5 622.4L362 623.58L362.5 624.47L363 625.13L363.5 625.58L364 625.87L364.5 626.02L365 626.04L365.5 625.93L366 625.66L366.5 625.2L367 624.5L367.5 623.48L368 622.06L368.5 620.16L369 617.69L369.5 614.59L370 610.81L370.5 606.37L371 601.29L371.5 595.6L372 589.22L372.5 581.89L373 573.34L373.5 563.67L374 554.03L374.5 546.61L375 543.8L375.5 546.61L376 554.03L376.5 563.67L377 573.34L377.5 581.89L378 589.22L378.5 595.6L379 601.29L379.5 606.37L380 610.81L380.5 614.58L381 617.68L381.5 620.15L382 622.04L382.5 623.43L383 624.41L383.5 625.05L384 625.4L384.5 625.5L385 625.36L385.5 624.95L386 624.25L386.5 623.18L387 621.67L387.5 619.63L388 616.96L388.5 613.61L389 609.53L389.5 604.73L390 599.24L390.5 593.1L391 586.2L391.5 578.28L392 569.03L392.5 558.58L393 548.15L393.5 540.14L394 537.1L394.5 540.14L395 548.15L395.5 558.58L396 569.03L396.5 578.28L397 586.2L397.5 593.1L398 599.24L398.5 604.73L399 609.53L399.5 613.61L400 616.97L400.5 619.63L401 621.67L401.5 623.19L402 624.25L402.5 624.96L403 625.36L403.5 625.49L404 625.38L404.5 625.01L405 624.32L405.5 623.27L406 621.75L406.5 619.67L407 616.93L407.5 613.43L408 609.11L408.5 603.96L409 598.02L409.5 591.31L410 583.82L410.5 575.3L411 565.39L411.5 553.95L412 541.79L412.5 531.18L413 525.17L413.5 525.88L414 533.04L414.5 544.19L415 556.34L415.5 567.5L416 577.1L416.5 585.39L417 592.71L417.5 599.27L418 605.06L418.5 610.04L419 614.19L419.5 617.53L420 620.13L420.5 622.07L421 623.47L421.5 624.42L422 624.98L422.5 625.22L423 625.16L423.5 624.79L424 624.07L424.5 622.94L425 621.29L425.5 619.02L426 616.02L426.5 612.2L427 607.48L427.5 601.85L428 595.35L428.5 588.03L429 579.83L429.5 570.53L430 559.69L430.5 547.18L431 533.9L431.5 522.3L432 515.72L432.5 516.49L433 524.32L433.5 536.52L434 549.8L434.5 562L435 572.49L435.5 581.55L436 589.56L436.5 596.72L437 603.05L437.5 608.5L438 613.04L438.5 616.69L439 619.54L439.5 621.69L440 623.24L440.5 624.32L441 625.01L441.5 625.39L442 625.5L442.5 625.37L443 624.97L443.5 624.27L444 623.21L444.5 621.7L445 619.67L445.5 617.02L446 613.68L446.5 609.63L447 604.85L447.5 599.4L448 593.28L448.5 586.42L449 578.55L449.5 569.35L450 558.96L450.5 548.59L451 540.63L451.5 537.6L452 540.63L452.5 548.59L453 558.96L453.5 569.35L454 578.55L454.5 586.42L455 593.28L455.5 599.4L456 604.85L456.5 609.63L457 613.69L457.5 617.02L458 619.67L458.5 621.71L459 623.22L459.5 624.29L460 625.01L460.5 625.45L461 625.64L461.5 625.63L462 625.41L462.5 624.97L463 624.27L463.5 623.26L464 621.88L464.5 620.08L465 617.82L465.5 615.06L466 611.82L466.5 608.11L467 603.95L467.5 599.29L468 593.93L468.5 587.68L469 580.62L469.5 573.57L470 568.16L470.5 566.1L471 568.16L471.5 573.57L472 580.62L472.5 587.68L473 593.93L473.5 599.29L474 603.95L474.5 608.11L475 611.82L475.5 615.06L476 617.82L476.5 620.09L477 621.89L477.5 623.28L478 624.3L478.5 625.03L479 625.52L479.5 625.81L480 625.94L480.5 625.91L481 625.74L481.5 625.4L482 624.86L482.5 624.08L483 623L483.5 621.57L484 619.75L484.5 617.51L485 614.84L485.5 611.75L486 608.26L486.5 604.37L487 599.95L487.5 594.8L488 588.85L488.5 582.53L489 577.02L489.5 573.9L490 574.26L490.5 577.98L491 583.78L491.5 590.09L492 595.89L492.5 600.88L493 605.19L493.5 608.99L494 612.4L494.5 615.41L495 618L495.5 620.15L496 621.89L496.5 623.25L497 624.27L497.5 625.02L498 625.54L498.5 625.89L499 626.1L499.5 626.2L500 626.21L500.5 626.14L501 625.98L501.5 625.71L502 625.33L502.5 624.81L503 624.12L503.5 623.26L504 622.21L504.5 620.98L505 619.57L505.5 617.99L506 616.22L506.5 614.18L507 611.8L507.5 609.12L508 606.44L508.5 604.38L509 603.6L509.5 604.38L510 606.44L510.5 609.12L511 611.8L511.5 614.18L512 616.22L512.5 617.99L513 619.57L513.5 620.98L514 622.21L514.5 623.26L515 624.13L515.5 624.81L516 625.34L516.5 625.73L517 626.01L517.5 626.2L518 626.33L518.5 626.39L519 626.41L519.5 626.39L520 626.32L520.5 626.21L521 626.03L521.5 625.8L522 625.48L522.5 625.08L523 624.58L523.5 623.98L524 623.29L524.5 622.52L525 621.65L525.5 620.67L526 619.52L526.5 618.2L527 616.79L527.5 615.56L528 614.87L528.5 614.95L529 615.78L529.5 617.07L530 618.47L530.5 619.76L531 620.87L531.5 621.83L532 622.68L532.5 623.44L533 624.11L533.5 624.68L534 625.16L534.5 625.55L535 625.85L535.5 626.08L536 626.25L536.5 626.36L537 626.43L537.5 626.48L538 626.49L538.5 626.49L539 626.45L539.5 626.4L540 626.31L540.5 626.19L541 626.03L541.5 625.82L542 625.57L542.5 625.27L543 624.92L543.5 624.52L544 624.08L544.5 623.58L545 623L545.5 622.33L546 621.61L546.5 620.99L547 620.63L547.5 620.68L548 621.1L548.5 621.75L549 622.47L549.5 623.12L550 623.69L550.5 624.18L551 624.61L551.5 624.99L552 625.33L552.5 625.63L553 625.87L553.5 626.07" fill="none" stroke="#000" stroke-width="1.75" stroke-linejoin="round"/>
<line x1="296.3" y1="636" x2="553" y2="636" stroke="#000" stroke-width="2.2"/>
<line x1="336.2" y1="636" x2="336.2" y2="641.5" stroke="#000" stroke-width="1.8"/>
<line x1="388.7" y1="636" x2="388.7" y2="641.5" stroke="#000" stroke-width="1.8"/>
<line x1="441.2" y1="636" x2="441.2" y2="641.5" stroke="#000" stroke-width="1.8"/>
<line x1="493.7" y1="636" x2="493.7" y2="641.5" stroke="#000" stroke-width="1.8"/>
<line x1="546.2" y1="636" x2="546.2" y2="641.5" stroke="#000" stroke-width="1.8"/>
<text x="392.9" y="662.4" font-size="16" text-anchor="middle" fill="#000" font-weight="normal" font-style="normal" font-family="'Liberation Sans', Arial, Helvetica, sans-serif">1035.0</text>
<text x="495.7" y="659.2" font-size="16" text-anchor="middle" fill="#000" font-weight="normal" font-style="normal" font-family="'Liberation Sans', Arial, Helvetica, sans-serif">1035.5</text>
<text x="427.5" y="681" font-size="16" text-anchor="middle" fill="#000" font-weight="normal" font-style="italic" font-family="'Liberation Sans', Arial, Helvetica, sans-serif">m/z</text>
<defs><radialGradient id="gc" cx="50%" cy="42%" r="62%"><stop offset="0" stop-color="#f6fff6"/><stop offset="0.45" stop-color="#dcfadc"/><stop offset="0.7" stop-color="#96f096"/><stop offset="0.85" stop-color="#45e845"/><stop offset="1" stop-color="#2ee62e"/></radialGradient></defs>
<rect x="301.6" y="488.3" width="39.4" height="18.2" rx="5" ry="5" fill="url(#gc)" stroke="#2ee82e" stroke-width="2.3"/>
<text x="303.8" y="501.9" font-size="15.5" text-anchor="start" fill="#1f3fb8" font-weight="normal" font-style="normal" font-family="'Liberation Sans', Arial, Helvetica, sans-serif">NosJ</text>
<path d="M341.1 498.28L341.27 498.34L341.45 498.35L341.62 498.31L341.8 498.23L341.97 498.1L342.14 497.93L342.32 497.73L342.49 497.49L342.66 497.23L342.84 496.95L343.01 496.66L343.19 496.38L343.36 496.09L343.53 495.82L343.71 495.58L343.88 495.36L344.05 495.17L344.23 495.02L344.4 494.92L344.58 494.86L344.75 494.85L344.92 494.89L345.1 494.97L345.27 495.1L345.44 495.27L345.62 495.48L345.79 495.71L345.97 495.97L346.14 496.25L346.31 496.54L346.49 496.83L346.66 497.11L346.83 497.38L347.01 497.63L347.18 497.84L347.36 498.03L347.53 498.18L347.7 498.28L347.88 498.34L348.05 498.35L348.22 498.31L348.4 498.23L348.57 498.1L348.75 497.93L348.92 497.72L349.09 497.49L349.27 497.23L349.44 496.95L349.61 496.66L349.79 496.37L349.96 496.09L350.13 495.82L350.31 495.57L350.48 495.35L350.66 495.17L350.83 495.02L351 494.92L351.18 494.86L351.35 494.85L351.52 494.89L351.7 494.97L351.87 495.1L352.05 495.27L352.22 495.48L352.39 495.72L352.57 495.98L352.74 496.25L352.92 496.54L353.09 496.83L353.26 497.11L353.44 497.38L353.61 497.63L353.78 497.85L353.96 498.03L354.13 498.18L354.31 498.28L354.48 498.34L354.65 498.35L354.83 498.31L355 498.22" fill="none" stroke="#111" stroke-width="1.3" stroke-linecap="round"/>
<text x="360.2" y="502.2" font-size="16" font-family="'Liberation Sans', Arial, Helvetica, sans-serif" fill="#000">S–MIA, <tspan font-weight="bold">8</tspan></text>
<text x="464.6" y="504.8" font-size="16" fill="#2b4cc8" font-family="'Liberation Sans', Arial, Helvetica, sans-serif">[M + 11H]<tspan font-size="11.3" dx="1.8" dy="-7.2">11+</tspan></text>
<text x="464.8" y="523.7" font-size="15.7" text-anchor="start" fill="#2b4cc8" font-weight="normal" font-style="normal" font-family="'Liberation Sans', Arial, Helvetica, sans-serif">cal. 1034.78</text>
<text x="464.8" y="542.8" font-size="15.7" text-anchor="start" fill="#2b4cc8" font-weight="normal" font-style="normal" font-family="'Liberation Sans', Arial, Helvetica, sans-serif">obs. 1034.75</text>
</svg>
</body></html>
